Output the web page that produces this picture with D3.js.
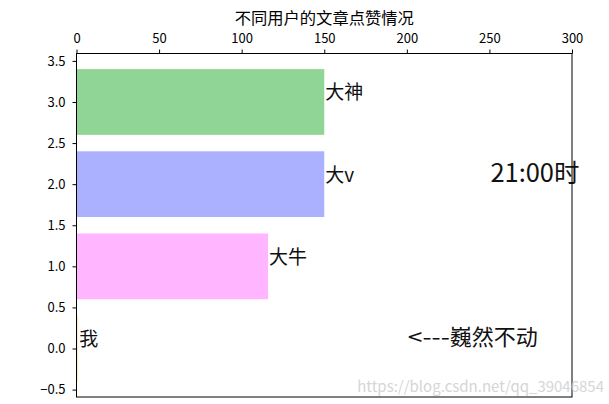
<!DOCTYPE html>
<html><head><meta charset="utf-8">
<script src="https://cdn.jsdelivr.net/npm/d3@7"></script>
<style>body{margin:0;background:#fff}text{font-family:"Noto Sans CJK SC","DejaVu Sans",sans-serif}</style>
</head><body>
<svg id="c" width="609" height="404"></svg>
<script>
const names = ["我", "大牛", "大v", "大神"];
const positions = [0, 1, 2, 3];
const likes = [1, 116, 150, 150];
const colors = ["#ffe9c4", "#ffb5ff", "#acb1ff", "#90d595"];
const xTicks = [0, 50, 100, 150, 200, 250, 300];
const yTicks = [-0.5, 0, 0.5, 1, 1.5, 2, 2.5, 3, 3.5];
const title = "不同用户的文章点赞情况";
const timeNote = {x: 250, y: 2, t: "21:00时"};
const steadyNote = {x: 200, y: 0, arrow: "<---", t: "巍然不动"};

const svg = d3.select("#c");
const L = 76.5, R = 572, T = 53.5, B = 397;
const x = d3.scaleLinear().domain([0, 300]).range([L, R]);
const y = d3.scaleLinear().domain([-0.59, 3.59]).range([B, T]);
const bh = y(0) - y(0.8);

svg.selectAll("rect.bar").data(likes).enter().append("rect")
  .attr("x", x(0)).attr("y", (d, i) => y(positions[i] + 0.4))
  .attr("width", d => x(d) - x(0)).attr("height", bh)
  .attr("fill", (d, i) => colors[i]);

svg.selectAll("text.lab").data(likes).enter().append("text")
  .attr("x", (d, i) => x(d) + 1).attr("y", (d, i) => y(positions[i]) - 2.5)
  .attr("font-size", 19).attr("fill", "#111").text((d, i) => names[i]);

svg.append("text").attr("x", x(timeNote.x) + 1).attr("y", y(timeNote.y) - 2.5)
  .attr("font-size", 25).attr("fill", "#111")
  .attr("textLength", 89).attr("lengthAdjust", "spacingAndGlyphs").text(timeNote.t);

const sn = svg.append("text").attr("x", x(steadyNote.x) + 1).attr("y", y(steadyNote.y) - 4)
  .attr("font-size", 22).attr("fill", "#111");
sn.append("tspan").attr("textLength", 42).attr("lengthAdjust", "spacingAndGlyphs").text(steadyNote.arrow);
sn.append("tspan").text(steadyNote.t);

const xa = svg.append("g").attr("transform", `translate(0,${T})`)
  .call(d3.axisTop(x).tickValues(xTicks).tickSize(4).tickPadding(7).tickFormat(d3.format("d")));
const ya = svg.append("g").attr("transform", `translate(${L},0)`)
  .call(d3.axisLeft(y).tickValues(yTicks).tickSize(4).tickPadding(7).tickFormat(d3.format(".1f")));
[xa, ya].forEach(a => { a.select(".domain").remove(); a.selectAll("text").attr("font-size", 13).attr("fill", "#000"); a.selectAll("line").attr("stroke", "#000"); });
ya.selectAll("text").text(d => d3.format(".1f")(d).replace("-", "−"));

svg.append("rect").attr("x", L).attr("y", T).attr("width", R - L).attr("height", B - T)
  .attr("fill", "none").attr("stroke", "#000").attr("stroke-width", 1);

svg.append("text").attr("x", (L + R) / 2).attr("y", 24).attr("text-anchor", "middle")
  .attr("font-size", 16.3).attr("fill", "#000").text(title);

svg.append("text").attr("x", 604).attr("y", 392).attr("text-anchor", "end")
  .attr("font-size", 15).attr("fill", "#ccc").attr("opacity", 0.8).text("https://blog.csdn.net/qq_39046854");
</script>
</body></html>
